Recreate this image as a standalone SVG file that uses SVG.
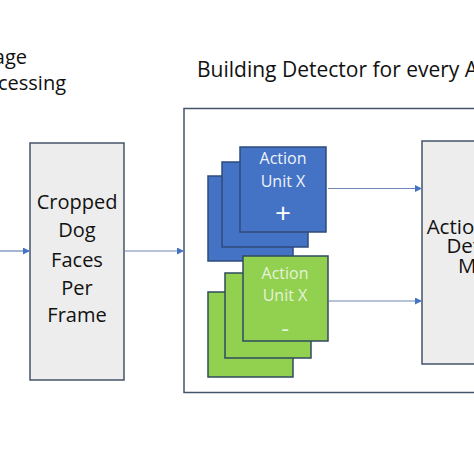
<svg xmlns="http://www.w3.org/2000/svg" width="474" height="474" viewBox="0 0 474 474">
  <defs>
    <marker id="arr" viewBox="0 0 10 10" refX="10" refY="5" markerWidth="7" markerHeight="7" markerUnits="userSpaceOnUse" orient="auto">
      <path d="M0,0 L10,5 L0,10 z" fill="#4472c4"/>
    </marker>
  </defs>
  <style>
    .lbl { font-family: "Open Sans", "Liberation Sans", sans-serif; font-size: 20px; fill: #111; }
    .gbox { fill: #ededed; stroke: #44546a; stroke-width: 1.5; }
    .blue { fill: #4472c4; stroke: #2f4b7c; stroke-width: 1.5; }
    .green { fill: #92d050; stroke: #2f4b5c; stroke-width: 1.5; }
    .au { font-family: "Open Sans", "Liberation Sans", sans-serif; font-size: 16px; text-anchor: middle; }
    .conn { stroke: #6f86b5; stroke-width: 1.2; fill: none; marker-end: url(#arr); }
  </style>
  <rect width="474" height="474" fill="#ffffff"/>

  <g id="title-preprocessing">
    <text class="lbl" x="27" y="64" text-anchor="end">Image</text>
    <text class="lbl" x="66" y="90" text-anchor="end">Pre-processing</text>
  </g>
  <g id="title-building">
    <text class="lbl" x="197" y="77" style="font-size:21px">Building Detector for every Action Unit</text>
  </g>

  <g id="container">
    <rect x="184" y="108.5" width="300" height="284" fill="#ffffff" stroke="#44546a" stroke-width="1.5"/>
  </g>

  <g id="cropped-faces">
    <rect class="gbox" x="30" y="143" width="94" height="237"/>
    <text class="lbl" text-anchor="middle" x="77" y="209">Cropped</text>
    <text class="lbl" text-anchor="middle" x="77" y="237">Dog</text>
    <text class="lbl" text-anchor="middle" x="77" y="267">Faces</text>
    <text class="lbl" text-anchor="middle" x="77" y="295">Per</text>
    <text class="lbl" text-anchor="middle" x="77" y="322">Frame</text>
  </g>

  <g id="au-positive">
    <rect class="blue" x="208" y="176" width="85" height="85"/>
    <rect class="blue" x="222" y="162" width="86" height="85"/>
    <rect class="blue" x="240" y="147" width="86" height="85"/>
    <text class="au" x="283" y="164" fill="#eef2fa">Action</text>
    <text class="au" x="283" y="187" fill="#eef2fa">Unit X</text>
    <text class="au" x="283" y="223" fill="#ffffff" style="font-size:28px">+</text>
  </g>

  <g id="au-negative">
    <rect class="green" x="208" y="292" width="85" height="85"/>
    <rect class="green" x="225" y="273" width="86" height="85"/>
    <rect class="green" x="243" y="256" width="85" height="85"/>
    <text class="au" x="285" y="279" fill="#e6f2da">Action</text>
    <text class="au" x="285" y="301" fill="#e6f2da">Unit X</text>
    <text class="au" x="285" y="337" fill="#e6f2da" style="font-size:24px">-</text>
  </g>

  <g id="detector-model">
    <rect class="gbox" x="422" y="141" width="80" height="223"/>
    <text class="lbl" text-anchor="middle" x="488" y="233.5" style="font-size:20.5px">Action Unit X</text>
    <text class="lbl" text-anchor="middle" x="488" y="253" style="font-size:20.5px">Detector</text>
    <text class="lbl" text-anchor="middle" x="488" y="272.5" style="font-size:20.5px">Model</text>
  </g>

  <g id="connectors">
    <line class="conn" x1="0" y1="251" x2="30" y2="251"/>
    <line class="conn" x1="124" y1="251" x2="184" y2="251"/>
    <line class="conn" x1="328" y1="188.5" x2="422" y2="188.5"/>
    <line class="conn" x1="329" y1="301" x2="422" y2="301"/>
  </g>
</svg>
